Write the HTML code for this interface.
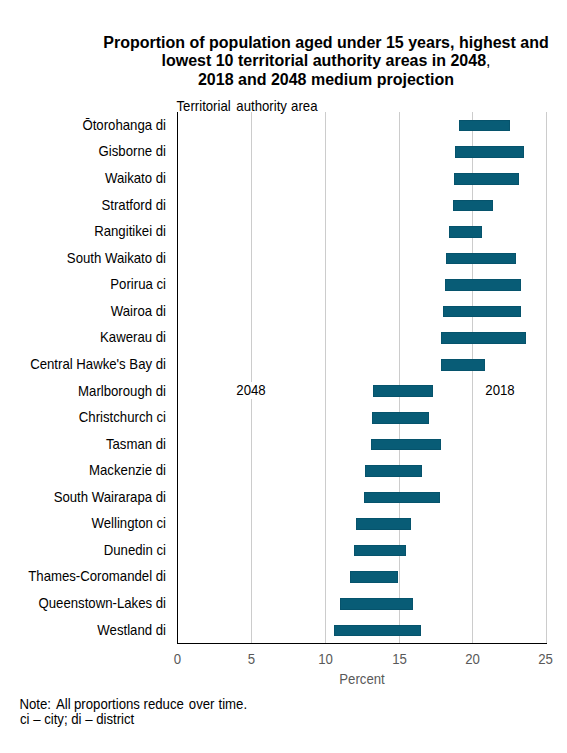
<!DOCTYPE html>
<html><head><meta charset="utf-8"><style>
html,body{margin:0;padding:0;background:#fff;}
body{width:567px;height:753px;overflow:hidden;position:relative;}
svg{position:absolute;left:0;top:0;font-family:"Liberation Sans",sans-serif;font-size:13.2px;}
</style></head><body>
<svg width="567" height="753" viewBox="0 0 567 753">
<rect x="0" y="0" width="567" height="753" fill="#fff"/>
<line x1="251.5" y1="112" x2="251.5" y2="643" stroke="#cccccc" stroke-width="1"/>
<line x1="325.5" y1="112" x2="325.5" y2="643" stroke="#cccccc" stroke-width="1"/>
<line x1="399.5" y1="112" x2="399.5" y2="643" stroke="#cccccc" stroke-width="1"/>
<line x1="472.5" y1="112" x2="472.5" y2="643" stroke="#cccccc" stroke-width="1"/>
<line x1="546.5" y1="112" x2="546.5" y2="643" stroke="#cccccc" stroke-width="1"/>
<rect x="235" y="382" width="32" height="17" fill="#fff"/>
<rect x="484" y="382" width="32" height="17" fill="#fff"/>
<rect x="459.5" y="120.5" width="50" height="10" fill="#085c76" stroke="#06536c" stroke-width="1"/>
<rect x="455.5" y="146.5" width="68" height="11" fill="#085c76" stroke="#06536c" stroke-width="1"/>
<rect x="454.5" y="173.5" width="64" height="11" fill="#085c76" stroke="#06536c" stroke-width="1"/>
<rect x="453.5" y="200.5" width="39" height="10" fill="#085c76" stroke="#06536c" stroke-width="1"/>
<rect x="449.5" y="226.5" width="32" height="11" fill="#085c76" stroke="#06536c" stroke-width="1"/>
<rect x="446.5" y="253.5" width="69" height="10" fill="#085c76" stroke="#06536c" stroke-width="1"/>
<rect x="445.5" y="279.5" width="75" height="11" fill="#085c76" stroke="#06536c" stroke-width="1"/>
<rect x="443.5" y="306.5" width="77" height="10" fill="#085c76" stroke="#06536c" stroke-width="1"/>
<rect x="441.5" y="332.5" width="84" height="11" fill="#085c76" stroke="#06536c" stroke-width="1"/>
<rect x="441.5" y="359.5" width="43" height="11" fill="#085c76" stroke="#06536c" stroke-width="1"/>
<rect x="373.5" y="385.5" width="59" height="11" fill="#085c76" stroke="#06536c" stroke-width="1"/>
<rect x="372.5" y="412.5" width="56" height="11" fill="#085c76" stroke="#06536c" stroke-width="1"/>
<rect x="371.5" y="439.5" width="69" height="10" fill="#085c76" stroke="#06536c" stroke-width="1"/>
<rect x="365.5" y="465.5" width="56" height="11" fill="#085c76" stroke="#06536c" stroke-width="1"/>
<rect x="364.5" y="492.5" width="75" height="10" fill="#085c76" stroke="#06536c" stroke-width="1"/>
<rect x="356.5" y="518.5" width="54" height="11" fill="#085c76" stroke="#06536c" stroke-width="1"/>
<rect x="354.5" y="545.5" width="51" height="10" fill="#085c76" stroke="#06536c" stroke-width="1"/>
<rect x="350.5" y="571.5" width="47" height="11" fill="#085c76" stroke="#06536c" stroke-width="1"/>
<rect x="340.5" y="598.5" width="72" height="11" fill="#085c76" stroke="#06536c" stroke-width="1"/>
<rect x="334.5" y="625.5" width="86" height="10" fill="#085c76" stroke="#06536c" stroke-width="1"/>
<line x1="177.5" y1="112" x2="177.5" y2="644" stroke="#000" stroke-width="1"/>
<line x1="177" y1="643.5" x2="547" y2="643.5" stroke="#000" stroke-width="1"/>
<text transform="translate(166,130) scale(1,1.05)" x="0" y="0" text-anchor="end" fill="#000" >Ōtorohanga di</text>
<text transform="translate(166,156) scale(1,1.05)" x="0" y="0" text-anchor="end" fill="#000" >Gisborne di</text>
<text transform="translate(166,183) scale(1,1.05)" x="0" y="0" text-anchor="end" fill="#000" >Waikato di</text>
<text transform="translate(166,210) scale(1,1.05)" x="0" y="0" text-anchor="end" fill="#000" >Stratford di</text>
<text transform="translate(166,236) scale(1,1.05)" x="0" y="0" text-anchor="end" fill="#000" >Rangitikei di</text>
<text transform="translate(166,263) scale(1,1.05)" x="0" y="0" text-anchor="end" fill="#000" >South Waikato di</text>
<text transform="translate(166,289) scale(1,1.05)" x="0" y="0" text-anchor="end" fill="#000" >Porirua ci</text>
<text transform="translate(166,316) scale(1,1.05)" x="0" y="0" text-anchor="end" fill="#000" >Wairoa di</text>
<text transform="translate(166,342) scale(1,1.05)" x="0" y="0" text-anchor="end" fill="#000" >Kawerau di</text>
<text transform="translate(166,369) scale(1,1.05)" x="0" y="0" text-anchor="end" fill="#000" >Central Hawke&#39;s Bay di</text>
<text transform="translate(166,396) scale(1,1.05)" x="0" y="0" text-anchor="end" fill="#000" >Marlborough di</text>
<text transform="translate(166,422) scale(1,1.05)" x="0" y="0" text-anchor="end" fill="#000" >Christchurch ci</text>
<text transform="translate(166,449) scale(1,1.05)" x="0" y="0" text-anchor="end" fill="#000" >Tasman di</text>
<text transform="translate(166,475) scale(1,1.05)" x="0" y="0" text-anchor="end" fill="#000" >Mackenzie di</text>
<text transform="translate(166,502) scale(1,1.05)" x="0" y="0" text-anchor="end" fill="#000" >South Wairarapa di</text>
<text transform="translate(166,528) scale(1,1.05)" x="0" y="0" text-anchor="end" fill="#000" >Wellington ci</text>
<text transform="translate(166,555) scale(1,1.05)" x="0" y="0" text-anchor="end" fill="#000" >Dunedin ci</text>
<text transform="translate(166,581) scale(1,1.05)" x="0" y="0" text-anchor="end" fill="#000" >Thames-Coromandel di</text>
<text transform="translate(166,608) scale(1,1.05)" x="0" y="0" text-anchor="end" fill="#000" >Queenstown-Lakes di</text>
<text transform="translate(166,635) scale(1,1.05)" x="0" y="0" text-anchor="end" fill="#000" >Westland di</text>
<text transform="translate(177.5,663.5) scale(1,1.05)" x="0" y="0" text-anchor="middle" fill="#595959" >0</text>
<text transform="translate(251.5,663.5) scale(1,1.05)" x="0" y="0" text-anchor="middle" fill="#595959" >5</text>
<text transform="translate(325.5,663.5) scale(1,1.05)" x="0" y="0" text-anchor="middle" fill="#595959" >10</text>
<text transform="translate(399.5,663.5) scale(1,1.05)" x="0" y="0" text-anchor="middle" fill="#595959" >15</text>
<text transform="translate(472.5,663.5) scale(1,1.05)" x="0" y="0" text-anchor="middle" fill="#595959" >20</text>
<text transform="translate(545.5,663.5) scale(1,1.05)" x="0" y="0" text-anchor="middle" fill="#595959" >25</text>
<text transform="translate(362,683.5) scale(1,1.05)" x="0" y="0" text-anchor="middle" fill="#595959" >Percent</text>
<text transform="translate(251,395) scale(1,1.05)" x="0" y="0" text-anchor="middle" fill="#000" >2048</text>
<text transform="translate(500,395) scale(1,1.05)" x="0" y="0" text-anchor="middle" fill="#000" >2018</text>
<text transform="translate(176.5,110.5) scale(1,1.05)" x="0" y="0" text-anchor="start" fill="#000" >Territorial <tspan dx="2">authority</tspan> <tspan dx="0.5">area</tspan></text>
<text transform="translate(19.5,709) scale(1,1.05)" x="0" y="0" text-anchor="start" fill="#000" >Note:</text>
<text transform="translate(56,709) scale(1,1.05)" x="0" y="0" text-anchor="start" fill="#000" >All</text>
<text transform="translate(74,709) scale(1,1.05)" x="0" y="0" text-anchor="start" fill="#000" >proportions</text>
<text transform="translate(143.5,709) scale(1,1.05)" x="0" y="0" text-anchor="start" fill="#000" >reduce</text>
<text transform="translate(188.8,709) scale(1,1.05)" x="0" y="0" text-anchor="start" fill="#000" >over</text>
<text transform="translate(218.5,709) scale(1,1.05)" x="0" y="0" text-anchor="start" fill="#000" >time.</text>
<text transform="translate(20,724) scale(1,1.05)" x="0" y="0" text-anchor="start" fill="#000" >ci – city; di – district</text>
<text x="326" y="47.5" text-anchor="middle" font-weight="bold" font-size="16" fill="#000">Proportion of population aged under 15 years, highest and</text>
<text x="326" y="65.5" text-anchor="middle" font-weight="bold" font-size="16" fill="#000">lowest 10 territorial authority areas in 2048<tspan font-weight="normal">,</tspan></text>
<text x="326" y="84.5" text-anchor="middle" font-weight="bold" font-size="16" fill="#000">2018 and 2048 medium projection</text>
</svg>
</body></html>
